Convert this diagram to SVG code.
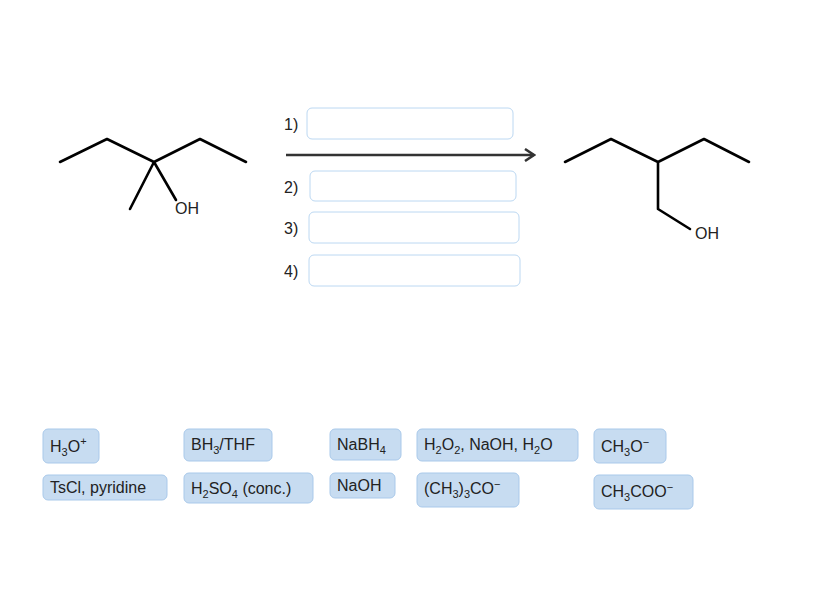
<svg xmlns="http://www.w3.org/2000/svg" width="816" height="604" viewBox="0 0 816 604">
<defs><style>
text{font-family:"Liberation Sans",Arial,sans-serif;font-size:16px;fill:#222}
.b{fill:none;stroke:#000;stroke-width:2.6;stroke-linejoin:round;stroke-linecap:round}
.in{fill:#fff;stroke:#bcd8f2;stroke-width:1}
.t{fill:#c7dcf1;stroke:#a9c9ea;stroke-width:1}
.s{font-size:11px}
</style>
<marker id="ah" markerWidth="12" markerHeight="14" refX="10" refY="7" orient="auto" markerUnits="userSpaceOnUse"><path d="M1,1 L10,7 L1,13" fill="none" stroke="#333" stroke-width="2.5"/></marker></defs>
<rect width="816" height="604" fill="#fff"/>
<g id="reactant"><path class="b" d="M60,162 L107,139 L154,162 L200,139 L246,162 M154,162 L130,209 M154,162 L176,200"/><text x="175" y="214">OH</text></g>
<g id="product"><path class="b" d="M565,162 L611,139 L658,162 L704,139 L749,162 M658,162 L658,209 L690,229"/><text x="695" y="239">OH</text></g>
<g id="connectors"><line x1="286" y1="155" x2="534" y2="155" stroke="#333" stroke-width="2.5" marker-end="url(#ah)"/></g>
<g id="step1"><text x="284" y="130">1)</text><rect class="in" x="307" y="108" width="206" height="31" rx="5"/></g>
<g id="step2"><text x="284" y="193">2)</text><rect class="in" x="310" y="171" width="206" height="30" rx="5"/></g>
<g id="step3"><text x="284" y="234">3)</text><rect class="in" x="309" y="212" width="210" height="31" rx="5"/></g>
<g id="step4"><text x="284" y="277">4)</text><rect class="in" x="309" y="255" width="211" height="31" rx="5"/></g>
<g id="r1"><rect class="t" x="43" y="429" width="56" height="34" rx="5"/><text x="50" y="452">H<tspan class="s" dy="4">3</tspan><tspan dy="-4">O</tspan><tspan class="s" dy="-7">+</tspan></text></g>
<g id="r2"><rect class="t" x="184" y="429" width="88" height="32" rx="5"/><text x="191" y="450">BH<tspan class="s" dy="4">3</tspan><tspan dy="-4">/THF</tspan></text></g>
<g id="r3"><rect class="t" x="330" y="429" width="71" height="31" rx="5"/><text x="337" y="450">NaBH<tspan class="s" dy="4">4</tspan></text></g>
<g id="r4"><rect class="t" x="417" y="429" width="161" height="32" rx="5"/><text x="424" y="450">H<tspan class="s" dy="4">2</tspan><tspan dy="-4">O</tspan><tspan class="s" dy="4">2</tspan><tspan dy="-4">, NaOH, H</tspan><tspan class="s" dy="4">2</tspan><tspan dy="-4">O</tspan></text></g>
<g id="r5"><rect class="t" x="594" y="429" width="72" height="34" rx="5"/><text x="601" y="452">CH<tspan class="s" dy="4">3</tspan><tspan dy="-4">O</tspan><tspan class="s" dy="-6">−</tspan></text></g>
<g id="r6"><rect class="t" x="43" y="475" width="124" height="25" rx="5"/><text x="50" y="493">TsCl, pyridine</text></g>
<g id="r7"><rect class="t" x="184" y="473" width="129" height="30" rx="5"/><text x="191" y="494">H<tspan class="s" dy="4">2</tspan><tspan dy="-4">SO</tspan><tspan class="s" dy="4">4</tspan><tspan dy="-4"> (conc.)</tspan></text></g>
<g id="r8"><rect class="t" x="330" y="473" width="65" height="25" rx="5"/><text x="337" y="491">NaOH</text></g>
<g id="r9"><rect class="t" x="417" y="473" width="102" height="34" rx="5"/><text x="424" y="494">(CH<tspan class="s" dy="4">3</tspan><tspan dy="-4">)</tspan><tspan class="s" dy="4">3</tspan><tspan dy="-4">CO</tspan><tspan class="s" dy="-6">−</tspan></text></g>
<g id="r10"><rect class="t" x="594" y="475" width="99" height="34" rx="5"/><text x="601" y="497">CH<tspan class="s" dy="4">3</tspan><tspan dy="-4">COO</tspan><tspan class="s" dy="-6">−</tspan></text></g>
</svg>
